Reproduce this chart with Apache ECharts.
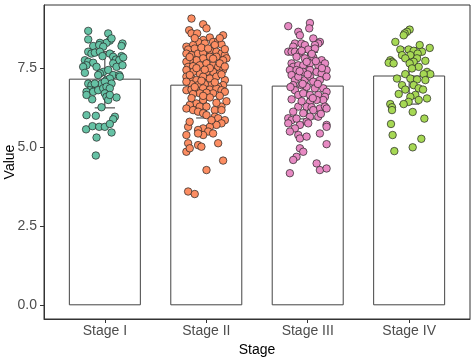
<!DOCTYPE html>
<html>
<head>
<meta charset="utf-8">
<script src="https://cdn.jsdelivr.net/npm/echarts@6/dist/echarts.min.js"></script>
<style>html,body{margin:0;padding:0;background:#fff}#c{width:474px;height:361px}</style>
</head>
<body>
<div id="c"></div>
<script>
// ---- data ----
var categories = ['Stage I', 'Stage II', 'Stage III', 'Stage IV'];
var meanValues = [7.15, 6.96, 6.93, 7.25];
var errLow = [6.24, 5.92, 5.89, 6.36];
var errHigh = [8.02, 7.98, 8.00, 8.14];
var yTicks = [0, 2.5, 5, 7.5];
var pointColors = ['#66C2A5', '#FC8D62', '#E78AC3', '#A6D854'];

// points: [jitter offset from category, value]
var stage1Points = [
[-0.164,8.68],[0.033,8.60],[-0.164,8.41],[0.049,8.37],[0.016,8.30],[-0.049,8.30],[0.066,8.44],
[-0.115,8.20],[-0.056,8.23],[-0.016,8.18],[0.174,8.28],[0.164,8.20],[-0.164,8.02],[-0.132,7.96],
[-0.099,7.99],[-0.049,8.02],[-0.023,7.88],[0.049,7.96],[-0.197,7.75],[-0.164,7.70],[-0.115,7.67],
[0.082,7.86],[0.109,7.77],[0.164,7.88],[0.141,7.75],[0.181,7.84],[0.082,7.65],[0.115,7.54],
[0.174,7.59],[-0.181,7.59],[-0.214,7.54],[-0.082,7.54],[-0.016,7.38],[0.033,7.44],[-0.049,7.33],
[0.082,7.28],[-0.197,7.35],[-0.066,7.28],[0.016,7.12],[0.049,7.17],[0.141,7.28],[0.148,7.23],
[-0.033,7.01],[0,7.07],[0.066,7.01],[-0.164,7.01],[-0.132,6.96],[-0.099,7.01],[-0.148,6.80],
[-0.181,6.75],[-0.115,6.75],[-0.066,6.80],[-0.016,6.86],[0.016,6.91],[0.049,6.86],[0,6.70],
[0.016,6.59],[0.033,6.49],[0.049,6.65],[0.115,6.57],[-0.125,6.51],[-0.181,6.65],[-0.033,6.26],
[-0.181,6.01],[-0.089,5.99],[0.099,5.96],[0.082,5.88],[-0.185,5.56],[-0.122,5.66],[-0.056,5.64],
[0,5.64],[0.049,5.73],[0.066,5.46],[-0.082,5.30],[-0.089,4.73]
];
var stage2Points = [
[-0.146,9.07],[-0.031,8.89],[0.002,8.76],[-0.169,8.70],[-0.146,8.60],[-0.090,8.60],
[0.166,8.54],[0.035,8.47],[-0.031,8.39],[-0.081,8.33],[-0.130,8.23],[-0.196,8.18],[-0.179,8.09],
[-0.114,8.12],[-0.015,8.28],[0.067,8.33],[0.117,8.36],[0.150,8.25],[0.084,8.23],
[-0.196,7.96],[-0.146,7.91],[-0.081,7.96],[-0.031,7.99],[0.035,8.07],[0.100,8.02],[0.150,7.96],
[0.183,7.91],[0.199,7.81],[0.166,7.75],[0.100,7.86],[0.035,7.86],[-0.031,7.81],[-0.097,7.75],
[-0.163,7.75],[-0.196,7.70],[-0.179,7.54],[-0.130,7.56],[-0.064,7.59],[0.002,7.65],[0.067,7.59],
[0.117,7.54],[0.166,7.44],[0.133,7.33],[0.067,7.38],[0.002,7.38],[-0.064,7.33],[-0.130,7.38],
[-0.196,7.44],[-0.196,7.23],[-0.146,7.17],[-0.097,7.12],[-0.031,7.23],[0.035,7.17],[0.100,7.23],
[0.183,7.12],[0.166,6.96],[0.117,6.91],[0.051,6.96],[-0.015,6.99],[-0.081,6.96],[-0.146,6.99],
[-0.196,7.07],[-0.196,6.80],[-0.146,6.82],[-0.097,6.80],[-0.031,6.86],[0.035,6.82],[0.100,6.86],
[0.150,6.80],[0.183,6.75],[0.067,6.70],[0.002,6.72],[-0.064,6.70],[-0.130,6.68],
[0.035,6.57],[-0.031,6.49],[-0.097,6.38],[-0.163,6.33],[-0.196,6.22],[-0.130,6.17],[-0.064,6.28],
[0.002,6.28],[0.084,6.17],[0.150,6.28],[0.150,6.17],[-0.081,6.12],[-0.031,6.07],[0.002,6.01],
[0.084,5.96],[0.117,5.91],[0.183,5.85],[0.150,5.75],[0.100,5.70],[0.035,5.64],[-0.031,5.59],
[-0.081,5.54],[0.018,5.49],[0.067,5.43],[-0.031,5.38],[-0.081,5.43],[-0.179,5.64],[-0.196,5.38],
[-0.179,5.12],[-0.196,4.85],[-0.163,4.96],[-0.081,5.06],[-0.048,5.01],[0.117,5.12],
[0.166,4.57],[0.002,4.27],[-0.179,3.59],[-0.114,3.51],
[-0.114,8.45],[0.133,8.45],[-0.048,8.15],[0.018,8.12],[0.183,8.10],[-0.164,7.85],[0.067,7.80],
[0.133,7.65],[-0.097,7.50],[0.035,7.50],[0.183,7.55],[-0.015,7.45],[-0.163,7.28],[0.150,7.30],
[-0.048,7.10],[0.084,7.05],[-0.114,6.90],[0.133,6.62],[-0.031,6.62],[0.199,6.45],[-0.146,6.55],
[0.100,6.40],[-0.164,5.80],[0.051,5.85]
];
var stage3Points = [
[0.022,8.93],[-0.192,8.83],[0.015,8.76],[-0.093,8.65],[-0.077,8.54],[0.055,8.44],[0.120,8.33],
[0.104,8.28],[0.071,8.23],[-0.126,8.28],[-0.061,8.28],[-0.028,8.23],[-0.143,8.18],
[-0.192,8.02],[-0.159,8.02],[-0.126,8.02],[-0.077,7.99],[0.005,8.09],[0.071,8.12],
[-0.110,7.86],[-0.028,7.81],[0.055,7.84],[0.137,7.75],[-0.159,7.65],[-0.143,7.54],[-0.093,7.59],
[-0.044,7.59],[0.022,7.65],[0.104,7.59],[0.170,7.65],[0.186,7.44],[-0.176,7.44],[-0.110,7.44],
[-0.044,7.38],[0.022,7.44],[0.088,7.38],[0.137,7.33],[-0.159,7.28],[-0.126,7.12],[-0.093,7.23],
[-0.028,7.12],[0.022,7.23],[0.055,7.07],[0.120,7.12],[0.186,7.23],[-0.143,6.96],[-0.061,6.96],
[-0.011,6.91],[0.071,6.86],[0.153,6.86],[0.186,6.75],[-0.126,6.80],[-0.093,6.65],[-0.044,6.70],
[0.022,6.65],[0.104,6.65],[0.170,6.59],[0.153,6.49],[-0.159,6.51],[0.022,6.43],[0.088,6.49],
[-0.011,6.28],[0.038,6.26],[0.120,6.22],[0.170,6.28],[0.186,6.22],[-0.093,6.28],[-0.143,6.12],
[-0.044,6.07],[0.055,6.17],[-0.192,5.91],[-0.159,5.85],[0.022,5.96],[0.104,5.96],[-0.011,5.80],
[-0.192,5.75],[-0.077,5.70],[-0.126,5.59],[0.005,5.75],[0.186,5.70],[0.186,5.64],
[-0.176,5.49],[-0.093,5.38],[-0.077,5.27],[-0.011,5.33],[0.120,5.43],[0.186,5.09],
[-0.077,4.96],[-0.044,4.85],[-0.110,4.69],[-0.143,4.59],[0.088,4.48],[0.120,4.27],[0.186,4.32],
[-0.176,4.17],
[-0.060,8.05],[0.040,7.95],[-0.010,7.70],[0.080,7.72],[-0.080,7.40],[0.140,7.50],[0.000,7.30],
[-0.050,7.00],[0.100,7.00],[-0.170,6.90],[0.050,6.55],[-0.060,6.45],[0.130,6.05],[-0.110,5.90]
];
var stage4Points = [
[0.005,8.72],[-0.021,8.65],[-0.044,8.60],[-0.054,8.54],[-0.136,8.33],
[0.104,8.23],[0.203,8.14],[-0.087,8.09],[-0.005,8.09],[0.045,8.05],[0.127,8.02],[0.084,7.96],
[0.012,7.91],[-0.070,7.91],[-0.038,7.81],[-0.186,7.75],[-0.169,7.70],[-0.202,7.67],[-0.153,7.65],
[0.078,7.81],[0.045,7.70],[0.005,7.65],[0.160,7.73],[0.094,7.54],[0.028,7.49],[0.176,7.38],
[0.209,7.31],[0.143,7.31],[-0.038,7.31],[-0.120,7.17],[0.012,7.17],[0.078,7.14],[0.160,7.12],
[-0.070,6.96],[0.045,6.96],[-0.038,6.82],[0.094,6.86],[0.137,6.82],[-0.103,6.68],[0.061,6.65],
[0.012,6.59],[0.176,6.54],[0.094,6.49],[-0.005,6.43],[-0.186,6.36],[-0.169,6.26],[-0.054,6.36],
[-0.169,6.17],[0.035,6.11],[0.150,5.90],[-0.179,5.73],[-0.163,5.38],[0.120,5.26],[0.035,4.99],
[-0.146,4.87]
];
var allPoints = [stage1Points, stage2Points, stage3Points, stage4Points];

// ---- chart ----
var chart = echarts.init(document.getElementById('c'), null, {renderer: 'canvas'});
var FONT = 'Liberation Sans, Arial, sans-serif';
var barHalf = 0.35, capHalf = 0.1;

var barSeries = {
  type: 'custom',
  z: 1,
  data: meanValues.map(function (v, i) { return [i + 1, v]; }),
  renderItem: function (params, api) {
    var x = api.value(0), v = api.value(1);
    var p1 = api.coord([x - barHalf, v]);
    var p2 = api.coord([x + barHalf, 0]);
    return {
      type: 'rect',
      shape: {x: p1[0], y: p1[1], width: p2[0] - p1[0], height: p2[1] - p1[1]},
      style: {fill: '#ffffff', stroke: '#444444', lineWidth: 1}
    };
  },
  silent: true
};

var errSeries = {
  type: 'custom',
  z: 2,
  data: errLow.map(function (lo, i) { return [i + 1, lo, errHigh[i]]; }),
  renderItem: function (params, api) {
    var x = api.value(0), lo = api.value(1), hi = api.value(2);
    var a = api.coord([x, lo]), b = api.coord([x, hi]);
    var l = api.coord([x - capHalf, lo])[0], r = api.coord([x + capHalf, lo])[0];
    var st = {stroke: '#333333', lineWidth: 1};
    return {
      type: 'group',
      children: [
        {type: 'line', shape: {x1: a[0], y1: a[1], x2: b[0], y2: b[1]}, style: st},
        {type: 'line', shape: {x1: l, y1: a[1], x2: r, y2: a[1]}, style: st},
        {type: 'line', shape: {x1: l, y1: b[1], x2: r, y2: b[1]}, style: st}
      ]
    };
  },
  silent: true
};

var pointSeries = allPoints.map(function (pts, i) {
  return {
    type: 'scatter',
    z: 3,
    symbol: 'circle',
    symbolSize: 7.5,
    data: pts.map(function (p) { return [i + 1 + p[0], p[1]]; }),
    itemStyle: {color: pointColors[i], borderColor: '#222222', borderWidth: 0.7, opacity: 1},
    silent: true
  };
});

chart.setOption({
  animation: false,
  backgroundColor: '#ffffff',
  grid: {left: 44, right: 4, top: 5, bottom: 42, outerBoundsMode: 'none', containLabel: false,
         show: true, borderColor: '#333333', borderWidth: 1, backgroundColor: 'transparent'},
  graphic: [{
    type: 'text', x: 10, y: 162, rotation: Math.PI / 2, z: 10,
    style: {text: 'Value', fill: '#000', font: '14px ' + FONT, align: 'center', verticalAlign: 'middle'}
  }],
  xAxis: {
    type: 'value', min: 0.4, max: 4.6,
    name: 'Stage', nameLocation: 'middle', nameGap: 24,
    nameTextStyle: {color: '#000', fontSize: 14, fontFamily: FONT},
    axisLine: {show: true, onZero: false, lineStyle: {color: '#333333', width: 1}},
    axisTick: {show: true, length: 4, lineStyle: {color: '#333333'}, customValues: [1, 2, 3, 4]},
    axisLabel: {
      customValues: [1, 2, 3, 4], margin: 5, color: '#4D4D4D', fontSize: 14, fontFamily: FONT,
      formatter: function (v) { return categories[Math.round(v) - 1]; }
    },
    splitLine: {show: false}
  },
  yAxis: {
    type: 'value', min: -0.45, max: 9.5,
    axisLine: {show: true, onZero: false, lineStyle: {color: '#333333', width: 1}},
    axisTick: {show: true, length: 4, lineStyle: {color: '#333333'}, customValues: yTicks},
    axisLabel: {
      customValues: yTicks, margin: 7, color: '#4D4D4D', fontSize: 14, fontFamily: FONT,
      formatter: function (v) { return Number(v).toFixed(1); }
    },
    splitLine: {show: false}
  },
  series: [barSeries, errSeries].concat(pointSeries)
});
</script>
</body>
</html>
